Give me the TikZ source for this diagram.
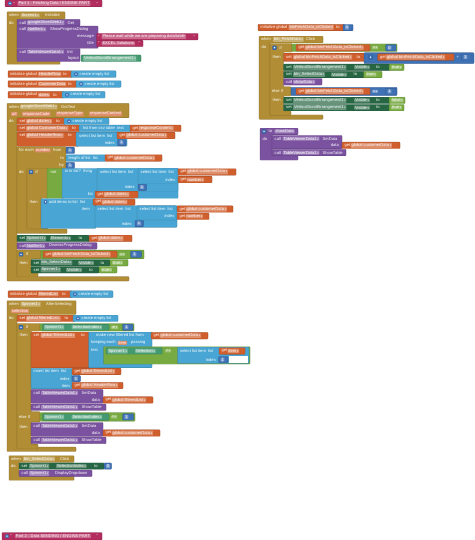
\documentclass[tikz,border=0pt]{standalone}
\usepackage{fontspec}
\setsansfont{Liberation Sans}
\newfontfamily\dv{DejaVu Sans}
\definecolor{ctl}{HTML}{B18E35}
\definecolor{prc}{HTML}{7B52A0}
\definecolor{vr}{HTML}{D05F2D}
\definecolor{lst}{HTML}{49A6D4}
\definecolor{mth}{HTML}{3F71B5}
\definecolor{lgc}{HTML}{77AB41}
\definecolor{stt}{HTML}{266643}
\definecolor{gtt}{HTML}{439970}
\definecolor{txt}{HTML}{B32D5E}
\newcommand\fs{\fontsize{4.1}{4.4}\selectfont\sffamily}
\tikzset{
 cb/.style={fill=#1,draw=#1!70!black,line width=0.15pt,rounded corners=0.7pt},
 lb/.style={anchor=west,inner sep=0pt,text=white,font=\fs},
 lbr/.style={lb,anchor=east},
 fld/.style={anchor=west,inner xsep=0.8pt,inner ysep=0.5pt,text=white,font=\fs,rounded corners=0.6pt,fill=#1!70!white},
}
\newcommand\B[5]{\path[cb=#1] (#2,#3) rectangle (#4,#5);}
\newcommand\C[8]{\path[cb=#1] (#2,#3) -- (#4,#3) -- (#4,#5) -- (#6,#5) -- (#6,#7-4.3) -- (#8,#7-4.3) -- (#8,#7) -- (#2,#7) -- cycle;}
\newcommand\T[3]{\node[lb] at (#1,#2) {#3};}
\newcommand\TR[3]{\node[lbr] at (#1,#2) {#3};}
\newcommand\F[4]{\node[fld=#1] at (#2,#3) {#4\,{\dv\fontsize{2.6}{3}\selectfont ▾}};}
\newcommand\G[4]{\node[fld=#1] at (#2,#3) {#4};}
\newcommand\MU[2]{\path[cb=mth] (#1-2,#2-2) rectangle (#1+2,#2+2); \fill[white] (#1,#2) circle (0.75);}
\newcommand\LI[2]{\fill[mth] (#1,#2) circle (2); \fill[white] (#1,#2) circle (0.75);}
\newcommand\GET[4]{\B{vr}{#1}{#2-3.2}{#3}{#2+3.2}\T{#1+2.3}{#2}{get}\F{vr}{#1+8.5}{#2}{#4}}
\newcommand\NUM[4]{\B{mth}{#1}{#2-3.1}{#3}{#2+3.1}\G{mth}{#1+1.8}{#2}{#4}}
\begin{document}
\begin{tikzpicture}[x=1pt,y=-1.0331pt]
\useasboundingbox (0,0) rectangle (474,522.7);
% ---- A : top comment text
\B{txt}{5}{0}{102}{6.6}
\LI{10}{3.3}
\T{13.5}{3.5}{``}
\G{txt}{17.5}{3.3}{Part 1 : Fetching Data / ENGINE PART}
\T{96.5}{3.5}{''}
% ---- B : Screen1.Initialize
\C{ctl}{7}{11.3}{65}{18.7}{17}{62.3}{60}
\T{9}{15}{when} \F{ctl}{20.5}{15}{Screen1} \T{45}{15}{Initialize}
\T{9}{22}{do}
\B{prc}{17}{18.7}{80}{25.2} \T{19.5}{22}{call} \F{prc}{27}{22}{googleSheetWeb1} \T{67.5}{22}{Get}
\B{prc}{17}{25.2}{98}{46.8} \T{19.5}{28.5}{call} \F{prc}{27}{28.5}{Notifier1} \T{50}{28.5}{ShowProgressDialog}
\TR{94}{35.6}{message} \TR{94}{42}{title}
\B{txt}{96.5}{32.3}{198}{38.7} \T{98}{35.6}{``} \G{txt}{101.5}{35.5}{Please wait while we are preparing data/table} \T{193.5}{35.6}{''}
\B{txt}{96.5}{38.9}{143}{45.2} \T{98}{42.1}{``} \G{txt}{101.5}{42}{EXCEL Solutions} \T{138.5}{42.1}{''}
\B{prc}{17}{46.8}{80}{59.7} \T{19.5}{50}{call} \F{prc}{27}{50}{TableViewerData1} \T{67}{50}{Init} \TR{79}{56.5}{layout}
\B{gtt}{81}{53.2}{141}{59.7} \F{gtt}{83}{56.5}{VerticalScrollArrangement1}
% ---- C,D,E : globals
\B{vr}{8}{68.5}{72}{75} \T{10}{71.8}{initialize global} \G{vr}{38}{71.8}{HeaderRow} \T{63}{71.8}{to}
\B{lst}{71}{68.5}{116}{75} \LI{76}{71.8} \T{79.5}{71.8}{create empty list}
\B{vr}{8}{78}{77}{84.5} \T{10}{81.3}{initialize global} \G{vr}{38}{81.3}{CustomerData} \T{68}{81.3}{to}
\B{lst}{76}{78}{121}{84.5} \LI{81}{81.3} \T{84.5}{81.3}{create empty list}
\B{vr}{8}{88.5}{64}{95} \T{10}{91.8}{initialize global} \G{vr}{38}{91.8}{dates} \T{53}{91.8}{to}
\B{lst}{62}{88.5}{105}{95} \LI{67}{91.8} \T{70.5}{91.8}{create empty list}
% ---- F : googleSheetWeb1.GotText
\C{ctl}{7}{100}{129}{114}{17}{272}{129}
\T{9}{103.5}{when} \F{ctl}{20}{103.5}{googleSheetWeb1} \T{61}{103.5}{GotText}
\G{vr}{11}{110.3}{url} \G{vr}{22}{110.3}{responseCode} \G{vr}{56}{110.3}{responseType} \G{vr}{89}{110.3}{responseContent}
\T{9}{117.3}{do}
\B{vr}{17}{114.3}{65}{120.5} \T{19.5}{117.4}{set} \F{vr}{26}{117.4}{global dates} \T{56}{117.4}{to}
\B{lst}{64}{114.3}{109}{120.5} \LI{69}{117.4} \T{72.5}{117.4}{create empty list}
\B{vr}{17}{121}{80}{127.3} \T{19.5}{124.2}{set} \F{vr}{26}{124.2}{global CustomerData} \T{72}{124.2}{to}
\B{lst}{79}{121}{131}{127.3} \T{83}{124.2}{list from csv table\ \ text}
\GET{130}{124.2}{181}{responseContent}
\B{vr}{17}{128}{79}{141.5} \T{19.5}{131.2}{set} \F{vr}{26}{131.2}{global HeaderRow} \T{68}{131.2}{to}
\B{lst}{76}{128}{127}{141.5} \T{79}{131.2}{select list item\ \ list} \TR{115}{138.2}{index}
\GET{117}{131.2}{175}{global customerData}
\NUM{117.5}{138}{126}{1}
% for each
\C{ctl}{17}{142}{66}{163.5}{27}{226}{67}
\T{19}{145.5}{for each} \G{vr}{35}{145.5}{number} \T{53}{145.5}{from}
\NUM{66}{145.6}{74.5}{1}
\TR{64}{152.9}{to} \B{lst}{66}{149.7}{106}{156.1} \T{68.5}{152.9}{length of list\ \ list}
\GET{105}{152.9}{162}{global customerData}
\TR{64}{160.2}{by} \NUM{66}{160.2}{74.5}{1}
\T{19}{166.5}{do}
% inner if
\C{ctl}{27}{163}{48}{192}{41}{221.5}{48}
\MU{31}{166.4} \T{35.5}{166.4}{if}
\B{lgc}{47}{163}{64}{192} \T{50.5}{166.4}{not}
\B{lst}{62}{163}{178}{192} \T{65}{166.4}{is in list?\ \ thing} \TR{93}{188.3}{list}
\B{lst}{97}{163}{178}{185} \T{100}{166.4}{select list item\ \ list} \TR{135}{181.3}{index}
\B{lst}{138}{163}{178}{177.5} \T{140.5}{166.4}{select list item\ \ list} \TR{175.5}{173.8}{index}
\GET{178}{166.4}{236}{global customerData}
\GET{178}{173.8}{212}{number}
\NUM{138}{181.3}{146.5}{1}
\GET{95}{188.3}{138}{global dates}
\T{29.5}{195.5}{then}
\B{lst}{41}{192.3}{96}{221} \LI{45.5}{195.5} \T{49}{195.5}{add items to list\ \ list} \TR{90}{202.4}{item}
\GET{93}{195.5}{135}{global dates}
\B{lst}{95}{199.2}{177}{220} \T{97.5}{202.4}{select list item\ \ list} \TR{132}{216.4}{index}
\B{lst}{137}{199.2}{177}{213} \T{139.5}{202.4}{select list item\ \ list} \TR{174.5}{209.4}{index}
\GET{177}{202.4}{233}{global customerData}
\GET{177}{209.4}{209}{number}
\NUM{135}{216.4}{143.5}{1}
% after loop
\B{stt}{17}{227.6}{89}{234} \T{19.5}{230.8}{set} \F{stt}{26}{230.8}{Spinner1} \F{stt}{50}{230.8}{Elements} \T{78.5}{230.8}{to}
\GET{89}{230.8}{132}{global dates}
\B{prc}{17}{234.8}{97}{241.2} \T{19.5}{238}{call} \F{prc}{26}{238}{Notifier1} \T{49}{238}{DismissProgressDialog}
\C{ctl}{17}{242}{41}{250.5}{31}{268}{38}
\MU{21}{246.2} \T{26}{246.2}{if}
\B{lgc}{41}{242}{144}{250.5}
\GET{43}{246.2}{117}{global btnFetchData\_isClicked}
\F{lgc}{119}{246.2}{=}
\NUM{130.5}{246.2}{141.5}{1}
\T{19.5}{254.4}{then}
\B{stt}{31}{251.2}{110}{257.5} \T{33.5}{254.4}{set} \F{stt}{40.5}{254.4}{btn\_SelectData} \F{stt}{78}{254.4}{Visible} \T{100.5}{254.4}{to}
\B{lgc}{110}{251.2}{128}{257.5} \F{lgc}{112}{254.4}{true}
\B{stt}{31}{258}{99}{264.3} \T{33.5}{261.2}{set} \F{stt}{40.5}{261.2}{Spinner1} \F{stt}{66}{261.2}{Visible} \T{89}{261.2}{to}
\B{lgc}{99}{258}{117}{264.3} \F{lgc}{101}{261.2}{true}
% ---- G : filteredList
\B{vr}{8}{281.5}{72}{288} \T{10}{284.8}{initialize global} \G{vr}{38}{284.8}{filteredList} \T{62}{284.8}{to}
\B{lst}{70}{281.5}{113}{288} \LI{75}{284.8} \T{78.5}{284.8}{create empty list}
% ---- H : Spinner1.AfterSelecting
\C{ctl}{7}{291}{76}{304.5}{17}{437}{76}
\T{9}{294.5}{when} \F{ctl}{20.5}{294.5}{Spinner1} \T{46}{294.5}{AfterSelecting}
\G{vr}{11}{301.2}{selection}
\T{9}{308.3}{do}
\B{vr}{17}{305}{75}{311.3} \T{19.5}{308.2}{set} \F{vr}{26}{308.2}{global filteredList} \T{64.5}{308.2}{to}
\B{lst}{73}{305}{118}{311.3} \LI{78}{308.2} \T{81.5}{308.2}{create empty list}
\path[cb=ctl] (17,313) -- (40,313) -- (40,320.5) -- (31,320.5) -- (31,398.5) -- (40,398.5) -- (40,408.5) -- (31,408.5) -- (31,430) -- (38,430) -- (38,434.5) -- (17,434.5) -- cycle;
\MU{21}{316.8} \T{26}{316.8}{if}
\B{lgc}{40}{313.2}{134}{320.4}
\B{gtt}{42.5}{313.8}{109}{319.8} \F{gtt}{44}{316.8}{Spinner1} \F{gtt}{71.5}{316.8}{SelectionIndex}
\F{lgc}{111}{316.8}{{\dv ≠}}
\NUM{122.5}{316.8}{133}{1}
\T{19.5}{324.5}{then}
\B{vr}{31}{321.5}{90}{356} \T{33.5}{324.7}{set} \F{vr}{40.5}{324.7}{global filteredList} \T{81}{324.7}{to}
\B{lst}{88.5}{321.5}{152}{356} \T{96}{324.7}{make new filtered list from}
\T{91}{331.8}{keeping each} \G{vr}{117.5}{331.8}{item} \T{131}{331.8}{passing} \T{91}{339}{test}
\GET{151}{325}{208}{global customerData}
\B{lgc}{103.5}{335.5}{250}{352.5}
\B{gtt}{106}{336.5}{162}{342.8} \F{gtt}{107.5}{339.7}{Spinner1} \F{gtt}{135}{339.7}{Selection}
\F{lgc}{165}{339.7}{=}
\B{lst}{177.5}{336}{249}{351.8} \T{180}{339.7}{select list item\ \ list} \TR{216}{348.1}{index}
\GET{219}{339.7}{245}{item}
\NUM{218.5}{348.1}{228}{1}
\fill[white] (228.5,344.8) rectangle (247.5,351.4);
\B{lst}{31}{356.5}{72}{376.3} \T{33.5}{359.6}{insert list item\ \ list} \TR{70}{366.5}{index} \TR{70}{373.2}{item}
\GET{72}{359.6}{121}{global filteredList}
\NUM{72}{366.5}{80.5}{1}
\GET{72}{373.2}{123}{global HeaderRow}
\B{prc}{31}{377}{103}{390.3} \T{33.5}{380.2}{call} \F{prc}{41}{380.2}{TableViewerData1} \T{81.5}{380.2}{SetData} \TR{100}{387.2}{data}
\GET{103}{387.2}{153}{global filteredList}
\B{prc}{31}{391}{106}{397.3} \T{33.5}{394.2}{call} \F{prc}{41}{394.2}{TableViewerData1} \T{81.5}{394.2}{ShowTable}
\T{19}{403.6}{else if}
\B{lgc}{40}{399.5}{135}{407.7}
\B{gtt}{42.5}{400.5}{109}{406.8} \F{gtt}{44}{403.6}{Spinner1} \F{gtt}{71.5}{403.6}{SelectionIndex}
\F{lgc}{111}{403.6}{=}
\NUM{122.5}{403.6}{133.5}{1}
\T{19.5}{413}{then}
\B{prc}{31}{409}{103}{422.3} \T{33.5}{412.2}{call} \F{prc}{41}{412.2}{TableViewerData1} \T{81.5}{412.2}{SetData} \TR{100}{419.2}{data}
\GET{103}{419.2}{160}{global customerData}
\B{prc}{31}{423}{106}{429.5} \T{33.5}{426.2}{call} \F{prc}{41}{426.2}{TableViewerData1} \T{81.5}{426.2}{ShowTable}
% ---- I : btn_SelectData.Click
\C{ctl}{9}{441}{74}{447.5}{19}{465}{74}
\T{11}{444.3}{when} \F{ctl}{23}{444.3}{btn\_SelectData} \T{60}{444.3}{Click}
\T{11}{451.5}{do}
\B{stt}{19}{448}{104}{454.3} \T{21.5}{451.2}{set} \F{stt}{29}{451.2}{Spinner1} \F{stt}{56}{451.2}{SelectionIndex} \T{94}{451.2}{to}
\NUM{104}{451.2}{111.5}{0}
\B{prc}{19}{455}{92}{461.3} \T{21.5}{458.2}{call} \F{prc}{29}{458.2}{Spinner1} \T{55}{458.2}{DisplayDropdown}
% ---- J : bottom comment text
\B{txt}{2}{515.5}{102}{522.7}
\LI{7}{519}
\T{10.5}{519.2}{``}
\G{txt}{15}{519}{Part 2 : Data SENDING / ENGINE PART}
\T{96.5}{519.2}{''}
% ---- K : btnFetchData_isClicked
\B{vr}{258}{23.5}{344.5}{29.8} \T{260.5}{26.7}{initialize global} \G{vr}{288.5}{26.7}{btnFetchData\_isClicked} \T{336}{26.7}{to}
\NUM{343}{26.7}{353}{0}
% ---- L : btn_FetchData.Click
\C{ctl}{259}{35}{323}{41.5}{270}{115.5}{323}
\T{261}{38.2}{when} \F{ctl}{273}{38.2}{btn\_FetchData} \T{306}{38.2}{Click}
\T{261.5}{45.5}{do}
\path[cb=ctl] (270,42) -- (292,42) -- (292,50.5) -- (283.5,50.5) -- (283.5,84) -- (291,84) -- (291,93) -- (283.5,93) -- (283.5,107.5) -- (291,107.5) -- (291,111.5) -- (270,111.5) -- cycle;
\MU{274.5}{46.2} \T{279.5}{46.2}{if}
\B{lgc}{292}{42.5}{397}{50}
\GET{296}{46.2}{370}{global btnFetchData\_isClicked}
\F{lgc}{372}{46.2}{=}
\NUM{385.5}{46.2}{396}{0}
\T{272.5}{54.8}{then}
\B{vr}{283.5}{51.5}{365}{59.5} \T{286}{55.3}{set} \F{vr}{293}{55.3}{global btnFetchData\_isClicked} \T{356.5}{55.3}{to}
\B{mth}{364}{51}{474}{61.5} \MU{370.5}{55.3}
\GET{377.5}{55.3}{454}{global btnFetchData\_isClicked}
\T{456.5}{55.3}{+}
\NUM{461.5}{55.3}{472}{1}
\B{stt}{283.5}{62}{390}{68.3} \T{286}{65.2}{set} \F{stt}{293}{65.2}{VerticalScrollArrangement1} \F{stt}{354}{65.2}{Visible} \T{376}{65.2}{to}
\B{lgc}{389}{62}{404}{68.3} \F{lgc}{391}{65.2}{true}
\B{stt}{283.5}{69}{364}{75.3} \T{286}{72.2}{set} \F{stt}{293}{72.2}{btn\_SelectData} \F{stt}{331}{72.2}{Visible} \T{353.5}{72.2}{to}
\B{lgc}{363.5}{69}{382}{75.3} \F{lgc}{365.5}{72.2}{true}
\B{prc}{283.5}{76}{322}{82.3} \T{286}{79.2}{call} \F{prc}{293}{79.2}{showData}
\T{272}{88.5}{else if}
\B{mth}{291}{84.5}{397}{92.5}
\GET{296}{88.5}{370}{global btnFetchData\_isClicked}
\F{mth}{372}{88.5}{=}
\NUM{385.5}{88.5}{396}{1}
\T{272.5}{97}{then}
\B{stt}{283.5}{94}{390}{100.3} \T{286}{97.2}{set} \F{stt}{293}{97.2}{VerticalScrollArrangement1} \F{stt}{354}{97.2}{Visible} \T{376}{97.2}{to}
\B{lgc}{389}{94}{405}{100.3} \F{lgc}{391}{97.2}{false}
\B{stt}{283.5}{101}{390}{107.3} \T{286}{104.2}{set} \F{stt}{293}{104.2}{VerticalScrollArrangement1} \F{stt}{354}{104.2}{Visible} \T{376}{104.2}{to}
\B{lgc}{389}{101}{404}{107.3} \F{lgc}{391}{104.2}{true}
% ---- M : to showData
\C{prc}{260}{124}{298}{130.5}{272}{155}{298}
\MU{264}{127.2} \T{268.5}{127.2}{to} \G{prc}{274.5}{127.2}{showData}
\T{262.5}{134.2}{do}
\B{prc}{272}{131}{342}{144} \T{274.5}{134.2}{call} \F{prc}{282.5}{134.2}{TableViewerData1} \T{322.5}{134.2}{SetData} \TR{339}{140.7}{data}
\GET{342}{140.7}{400}{global customerData}
\B{prc}{272}{144.5}{346}{150.8} \T{274.5}{147.7}{call} \F{prc}{282.5}{147.7}{TableViewerData1} \T{322.5}{147.7}{ShowTable}
\end{tikzpicture}
\end{document}
